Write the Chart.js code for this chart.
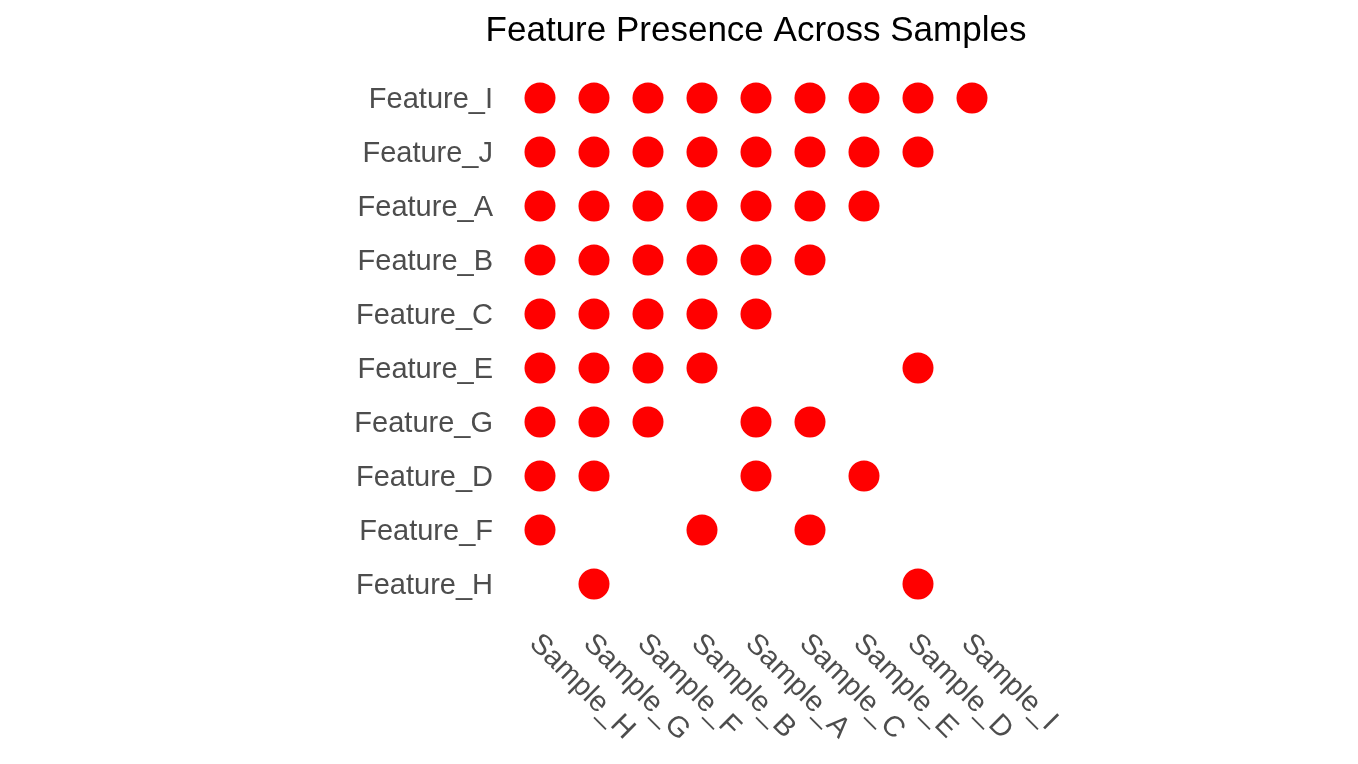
<!DOCTYPE html>
<html>
<head>
<meta charset="utf-8">
<title>Feature Presence Across Samples</title>
<script src="https://cdn.jsdelivr.net/npm/chart.js@4.4.0/dist/chart.umd.min.js"></script>
<style>
  html, body { margin: 0; padding: 0; background: #fff; }
  #wrap { width: 1358px; height: 764px; position: relative; }
</style>
</head>
<body>
<div id="wrap"><canvas id="presenceChart"></canvas></div>
<script>
// Axis categories (x left to right, y top to bottom)
const samples = ['Sample_H', 'Sample_G', 'Sample_F', 'Sample_B', 'Sample_A', 'Sample_C', 'Sample_E', 'Sample_D', 'Sample_I'];
const features = ['Feature_I', 'Feature_J', 'Feature_A', 'Feature_B', 'Feature_C', 'Feature_E', 'Feature_G', 'Feature_D', 'Feature_F', 'Feature_H'];

// Presence (1) / absence (0) per feature, in the order of samples above
const featureI = [1, 1, 1, 1, 1, 1, 1, 1, 1];
const featureJ = [1, 1, 1, 1, 1, 1, 1, 1, 0];
const featureA = [1, 1, 1, 1, 1, 1, 1, 0, 0];
const featureB = [1, 1, 1, 1, 1, 1, 0, 0, 0];
const featureC = [1, 1, 1, 1, 1, 0, 0, 0, 0];
const featureE = [1, 1, 1, 1, 0, 0, 0, 1, 0];
const featureG = [1, 1, 1, 0, 1, 1, 0, 0, 0];
const featureD = [1, 1, 0, 0, 1, 0, 1, 0, 0];
const featureF = [1, 0, 0, 1, 0, 1, 0, 0, 0];
const featureH = [0, 1, 0, 0, 0, 0, 0, 1, 0];

const presenceRows = [featureI, featureJ, featureA, featureB, featureC, featureE, featureG, featureD, featureF, featureH];

const chartTitle = 'Feature Presence Across Samples';

const FONT = "'Liberation Sans', Arial, Helvetica, sans-serif";
const LABEL_COLOR = '#4d4d4d';

// Build the point list from the matrix
const points = [];
presenceRows.forEach((row, i) => {
  row.forEach((present, j) => {
    if (present) points.push({ x: samples[j], y: features[i] });
  });
});

// Title and axis labels drawn by hand (x labels run down-right at 45 degrees)
const axisLabels = {
  id: 'axisLabels',
  afterDraw(chart) {
    const ctx = chart.ctx;
    const xScale = chart.scales.x;
    const yScale = chart.scales.y;
    ctx.save();

    // title
    ctx.fillStyle = '#000000';
    ctx.font = '35px ' + FONT;
    ctx.textAlign = 'center';
    ctx.textBaseline = 'alphabetic';
    ctx.fillText(chartTitle, (xScale.left + xScale.right) / 2, 41);

    ctx.fillStyle = LABEL_COLOR;
    ctx.font = '29px ' + FONT;

    // y labels
    ctx.textAlign = 'right';
    ctx.textBaseline = 'middle';
    features.forEach((f, i) => {
      ctx.fillText(f, xScale.left - 20, yScale.getPixelForValue(i) + 1.5);
    });

    // x labels
    ctx.textAlign = 'left';
    ctx.textBaseline = 'middle';
    samples.forEach((s, i) => {
      const px = xScale.getPixelForValue(i);
      ctx.save();
      ctx.translate(px - 6, yScale.bottom + 28);
      ctx.rotate(Math.PI / 4);
      ctx.fillText(s, 0, 0);
      ctx.restore();
    });
    ctx.restore();
  }
};

const presenceChart = new Chart(document.getElementById('presenceChart').getContext('2d'), {
  type: 'scatter',
  data: {
    datasets: [{
      label: 'Present',
      data: points,
      backgroundColor: '#ff0000',
      borderWidth: 0,
      pointRadius: 15.5,
      pointHoverRadius: 15.5
    }]
  },
  options: {
    responsive: true,
    maintainAspectRatio: false,
    animation: false,
    layout: {
      padding: { left: 513, right: 359, top: 71, bottom: 153 }
    },
    scales: {
      x: { type: 'category', labels: samples, offset: true, display: false },
      y: { type: 'category', labels: features, offset: true, display: false }
    },
    plugins: {
      legend: { display: false },
      tooltip: { enabled: false },
      title: { display: false }
    }
  },
  plugins: [axisLabels]
});
</script>
</body>
</html>
